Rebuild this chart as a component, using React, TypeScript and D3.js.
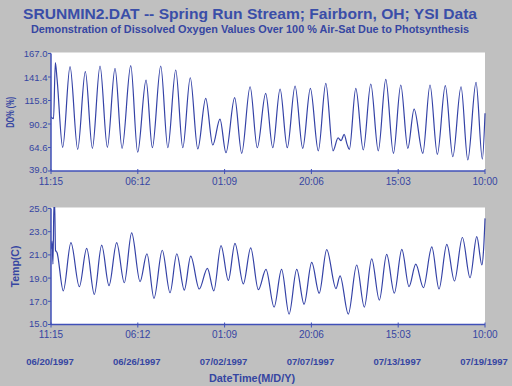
import React from "react";
import * as d3 from "d3";

// ---- data ----
const startTime = new Date(1997, 5, 20, 11, 15);
const endTime = new Date(1997, 6, 19, 10, 0);

const doYTicks = [39.0, 64.6, 90.2, 115.8, 141.4, 167.0];
const tempYTicks = [15.0, 17.0, 19.0, 21.0, 23.0, 25.0];

// elapsed days since start, DO % air saturation
const doDays = [
  0.0, 0.17, 0.29, 0.4, 0.78, 1.27, 1.78, 2.29, 2.76, 3.27, 3.76, 4.27, 4.74, 5.32, 5.78, 6.34, 6.76,
  7.32, 7.79, 8.32, 8.79, 9.29, 9.79, 10.32, 10.79, 11.27, 11.67, 12.25, 12.72, 13.28, 13.76, 14.32,
  14.79, 15.28, 15.76, 16.28, 16.79, 17.3, 17.83, 18.33, 18.81, 19.15, 19.35, 19.55, 19.75, 19.9,
  20.33, 20.83, 21.33, 21.83, 22.33, 22.84, 23.33, 23.8, 24.22, 24.8, 25.28, 25.77, 26.3, 26.8,
  27.35, 27.8, 28.35, 28.77, 28.95,
];
const doValues = [
  98, 96, 157, 140, 64.8, 152.6, 62.6, 147.2, 63.7, 153.4, 64.8, 150.9, 63.7, 153.7, 59.4, 138.1, 64.4,
  153.4, 64.4, 149, 64.4, 140.6, 63, 118.2, 67.3, 95.6, 58.9, 118.9, 58.3, 130.8, 64.4, 123.6,
  64.4, 128.3, 64.4, 131.6, 63.7, 129, 61, 134.5, 61, 75, 72, 79, 68, 62.6,
  129, 61.9, 133.8, 61, 138.9, 58.3, 132.7, 63.7, 106.5, 58.3, 132.7, 57.2, 132, 54.6,
  130.8, 51, 135.6, 52, 102,
];

// elapsed days since start, water temperature (C)
const tempDays = [
  0.0, 0.07, 0.13, 0.2, 0.24, 0.3, 0.4, 0.82, 1.33, 1.89, 2.38, 2.89, 3.38, 3.87, 4.38, 4.89, 5.38,
  5.94, 6.4, 6.87, 7.42, 7.94, 8.39, 8.89, 9.32, 9.89, 10.43, 10.86, 11.34, 11.83, 12.27, 12.83,
  13.32, 13.83, 14.34, 14.88, 15.38, 15.88, 16.39, 16.88, 17.39, 17.89, 18.39, 19.01, 19.28, 19.83,
  20.39, 20.9, 21.39, 21.9, 22.39, 22.9, 23.4, 23.88, 24.33, 24.84, 25.4, 25.88, 26.4, 26.91, 27.44,
  27.95, 28.4, 28.74, 28.86, 28.95,
];
const tempValues = [
  21.5, 22.2, 20.2, 25.6, 25.6, 21.4, 21.2, 17.9, 22.05, 18.26, 21.57, 17.6, 21.85, 18.35, 22.05, 18.6, 22.9,
  18.7, 21.1, 17.26, 21.4, 17.74, 21.1, 17.97, 20.9, 18.06, 19.84, 17.9, 21.8, 18.8, 22.0, 18.5,
  21.6, 18.0, 19.75, 16.5, 19.75, 15.9, 19.75, 16.75, 20.35, 17.7, 21.45, 18.1, 19.2, 15.9,
  20.13, 16.5, 20.65, 17.1, 21.05, 17.7, 21.48, 18.26, 20.2, 18.17, 21.7, 18.06, 21.9, 18.75, 22.5,
  19.03, 22.57, 20.13, 21.6, 24.15,
];

const titleText = "SRUNMIN2.DAT -- Spring Run Stream; Fairborn, OH; YSI Data";
const subtitleText = "Demonstration of Dissolved Oxygen Values Over 100 % Air-Sat Due to Photsynthesis";
const doLabel = "DO% (%)";
const tempLabel = "Temp(C)";
const xAxisLabel = "DateTime(M/D/Y)";

// ---- styling ----
const W = 512;
const H = 386;
const BG = "#c0c0c0";
const TXT = "#3646a2";
const AX = "#4050b8";
const LINE = "#3442a6";
const FONT = "Arial, 'Liberation Sans', sans-serif";

const left = 51;
const right = 485;
const doTop = 53.5;
const doBottom = 171;
const tTop = 208.5;
const tBottom = 324.5;

const DAY = 86400000;

export default function App() {
  const x = d3.scaleTime().domain([startTime, endTime]).range([left, right]);
  const yDO = d3.scaleLinear().domain([39, 167]).range([doBottom, doTop]);
  const yT = d3.scaleLinear().domain([15, 25]).range([tBottom, tTop]);

  const xTicks = d3.range(6).map(
    (i) => new Date(startTime.getTime() + ((endTime.getTime() - startTime.getTime()) * i) / 5)
  );
  const fmtTime = d3.timeFormat("%H:%M");
  const fmtDate = d3.timeFormat("%m/%d/%Y");

  const doData = doDays.map((d, i) => ({ t: new Date(startTime.getTime() + d * DAY), v: doValues[i] }));
  const tData = tempDays.map((d, i) => ({ t: new Date(startTime.getTime() + d * DAY), v: tempValues[i] }));

  const doLine = d3
    .line<{ t: Date; v: number }>()
    .x((d) => x(d.t))
    .y((d) => yDO(d.v))
    .curve(d3.curveMonotoneX);
  const tLine = d3
    .line<{ t: Date; v: number }>()
    .x((d) => x(d.t))
    .y((d) => yT(d.v))
    .curve(d3.curveMonotoneX);

  const panel = (
    top: number,
    bottom: number,
    y: d3.ScaleLinear<number, number>,
    ticks: number[],
    path: string,
    clipId: string,
    label: string,
    labelX: number,
    labelLen: number
  ) => (
    <g>
      <defs>
        <clipPath id={clipId}>
          <rect x={left} y={top - 1.5} width={right - left + 1} height={bottom - top + 1.5} />
        </clipPath>
      </defs>
      <rect x={left} y={top - 1} width={right - left} height={bottom - top + 1} fill="#ffffff" />
      <path d={path} fill="none" stroke={LINE} strokeWidth={1.2} clipPath={`url(#${clipId})`} />
      <line x1={left} x2={left} y1={top} y2={bottom} stroke={AX} strokeWidth={1.5} />
      <line x1={left} x2={right} y1={bottom} y2={bottom} stroke={AX} strokeWidth={1.5} />
      {ticks.map((t, i) => (
        <g key={t}>
          <line x1={left - 3} x2={left} y1={y(t)} y2={y(t)} stroke={AX} strokeWidth={1} />
          <text
            x={left - 3.5}
            y={y(t) + (i === 0 ? 2.3 : 3.5)}
            textAnchor="end"
            fontSize={9.5}
            fill={TXT}
            fontFamily={FONT}
          >
            {t.toFixed(1)}
          </text>
        </g>
      ))}
      {xTicks.map((d, i) => (
        <g key={i}>
          <line x1={x(d)} x2={x(d)} y1={bottom - 2} y2={bottom + 3} stroke={AX} strokeWidth={1} />
          <text
            x={x(d)}
            y={bottom + 13.5}
            textAnchor="middle"
            fontSize={10}
            fill={TXT}
            fontFamily={FONT}
          >
            {fmtTime(d)}
          </text>
        </g>
      ))}
      <text
        transform={`translate(${labelX},${(top + bottom) / 2}) rotate(-90)`}
        textAnchor="middle"
        fontSize={10.5}
        fontWeight="bold"
        fill={TXT}
        fontFamily={FONT}
        textLength={labelLen}
        lengthAdjust="spacingAndGlyphs"
      >
        {label}
      </text>
    </g>
  );

  return (
    <svg
      width={W}
      height={H}
      style={{ position: "absolute", left: 0, top: 0, display: "block" }}
    >
      <rect x={0} y={0} width={W} height={H} fill={BG} />
      <text
        x={250}
        y={19}
        textAnchor="middle"
        fontSize={15.5}
        fontWeight="bold"
        fill="#3a4ea8"
        fontFamily={FONT}
        textLength={454}
        lengthAdjust="spacingAndGlyphs"
      >
        {titleText}
      </text>
      <text
        x={250}
        y={32.5}
        textAnchor="middle"
        fontSize={10}
        fontWeight="bold"
        fill={TXT}
        fontFamily={FONT}
        textLength={438}
        lengthAdjust="spacingAndGlyphs"
      >
        {subtitleText}
      </text>
      {panel(doTop, doBottom, yDO, doYTicks, doLine(doData) || "", "clipDO", doLabel, 14, 31)}
      {panel(tTop, tBottom, yT, tempYTicks, tLine(tData) || "", "clipT", tempLabel, 19, 42)}
      {xTicks.map((d, i) => (
        <text
          key={i}
          x={x(d) - 1}
          y={365}
          textAnchor="middle"
          fontSize={9.5}
          fontWeight="bold"
          fill={TXT}
          fontFamily={FONT}
        >
          {fmtDate(d)}
        </text>
      ))}
      <text
        x={252}
        y={381.5}
        textAnchor="middle"
        fontSize={11.5}
        fontWeight="bold"
        fill={TXT}
        fontFamily={FONT}
        textLength={86}
        lengthAdjust="spacingAndGlyphs"
      >
        {xAxisLabel}
      </text>
    </svg>
  );
}
